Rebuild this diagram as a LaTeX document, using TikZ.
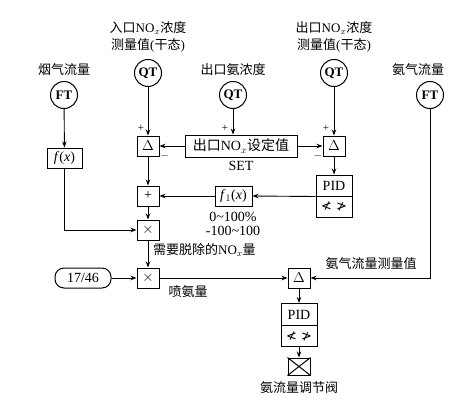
\documentclass[tikz,border=0pt]{standalone}
\usepackage{fontspec}
\setmainfont{Liberation Serif}
\newfontfamily\cjk{Noto Sans CJK SC}
\newfontfamily\dvs{DejaVu Sans}
\usetikzlibrary{arrows.meta}
\begin{document}
\begin{tikzpicture}[x=1pt,y=-1pt,
  blk/.style={draw, line width=1pt, minimum width=22pt, minimum height=20pt, inner sep=0pt, font=\fontsize{14}{14}\selectfont},
  circ/.style={draw, circle, line width=1pt, minimum size=27pt, inner sep=0pt, font=\fontsize{13}{13}\selectfont\bfseries},
  arr/.style={-{Stealth[length=6pt,width=4.5pt]}, line width=0.9pt},
  lbl/.style={font=\fontsize{13}{13}\selectfont\cjk, inner sep=0pt},
  sgn/.style={font=\fontsize{11}{11}\selectfont, inner sep=0pt},
  num/.style={font=\fontsize{14}{14}\selectfont, inner sep=0pt}]
\useasboundingbox (0,0) rectangle (474,407);
% sensors
\node[circ] (ft1) at (64,95) {FT};
\node[circ] (qt1) at (148,73) {QT};
\node[circ] (qt2) at (233,95) {QT};
\node[circ] (qt3) at (334,73) {QT};
\node[circ] (ft2) at (430,95) {FT};
% sensor labels
\node[lbl] (l1) at (64,70) {烟气流量};
\node[lbl] (l2a) at (148,28) {入口{\rmfamily NO$_x$}浓度};
\node[lbl] (l2b) at (148,45) {测量值{\rmfamily(}干态{\rmfamily)}};
\node[lbl] (l3) at (233,70) {出口氨浓度};
\node[lbl] (l4a) at (334,28) {出口{\rmfamily NO$_x$}浓度};
\node[lbl] (l4b) at (334,45) {测量值{\rmfamily(}干态{\rmfamily)}};
\node[lbl] (l5) at (418,70) {氨气流量};
% blocks
\node[blk, minimum width=35pt] (fx) at (64.5,158) {\itshape f\/\upshape(\itshape x\upshape)};
\node[blk] (d1) at (148,146) {$\Delta$};
\node[blk, minimum width=112pt, minimum height=22pt, font=\fontsize{14}{14}\selectfont] (set) at (241,146) {{\cjk 出口}NO$_x${\cjk 设定值}};
\node[num] (setl) at (241,166) {SET};
\node[blk] (d2) at (334,146) {$\Delta$};
\node[blk] (pl) at (148,196) {+};
\node[blk, minimum width=37pt] (f1) at (233.5,196) {\itshape f\/\upshape$_1$(\itshape x\upshape)};
\node[blk, minimum width=36pt, minimum height=21pt] (p1t) at (334,185.5) {PID};
\node[blk, minimum width=36pt, minimum height=21pt, font=\fontsize{13}{13}\selectfont\dvs] (p1b) at (334,206.5) {≮ ≯};
\node[num] (r1) at (233,217) {0\textasciitilde 100\%};
\node[num] (r2) at (233,231) {-100\textasciitilde 100};
\node[blk] (m1) at (148,230) {$\times$};
\node[lbl, anchor=west] (need) at (153,250) {需要脱除的{\rmfamily NO$_x$}量};
\node[blk] (m2) at (148,278) {$\times$};
\node[draw, line width=1pt, rounded corners=9pt, minimum width=56pt, minimum height=20pt, inner sep=0pt, font=\fontsize{14}{14}\selectfont] (k) at (83,278) {17/46};
\node[lbl] (pen) at (188,292) {喷氨量};
\node[blk] (d3) at (299,278) {$\Delta$};
\node[lbl] (meas) at (371,264) {氨气流量测量值};
\node[blk, minimum width=36pt, minimum height=22pt] (p2t) at (299,314.5) {PID};
\node[blk, minimum width=36pt, minimum height=21pt, font=\fontsize{13}{13}\selectfont\dvs] (p2b) at (299,336) {≮ ≯};
\node[blk, minimum height=17pt] (v) at (299,366.5) {};
\draw[line width=1pt] (v.north west) -- (v.south east) (v.north east) -- (v.south west);
\node[lbl] (vl) at (299,388) {氨流量调节阀};
% signs
\node[sgn] (s1) at (141,128) {+};
\node[sgn] (s2) at (165,156) {$-$};
\node[sgn] (s3) at (225,128) {+};
\node[sgn] (s4) at (326,128) {+};
\node[sgn] (s5) at (318,156) {$-$};
% connectors
\draw[arr] (ft1) -- (fx);
\draw[arr] (fx.south) |- (m1.west);
\draw[arr] (qt1) -- (d1);
\draw[arr] (qt2.south) -- (qt2.south |- set.north);
\draw[arr] (qt3) -- (d2);
\draw[arr] (set.west) -- (d1.east);
\draw[arr] (set.east) -- (d2.west);
\draw[arr] (d1) -- (pl);
\draw[arr] (pl) -- (m1);
\draw[arr] (m1) -- (m2);
\draw[arr] (d2) -- (p1t);
\draw[arr] (p1t.south west) -- (f1.east);
\draw[arr] (f1) -- (pl);
\draw[arr] (k) -- (m2);
\draw[arr] (m2) -- (d3);
\draw[arr] (ft2.south) |- (d3.east);
\draw[arr] (d3) -- (p2t);
\draw[arr] (p2b) -- (v);
\end{tikzpicture}
\end{document}
